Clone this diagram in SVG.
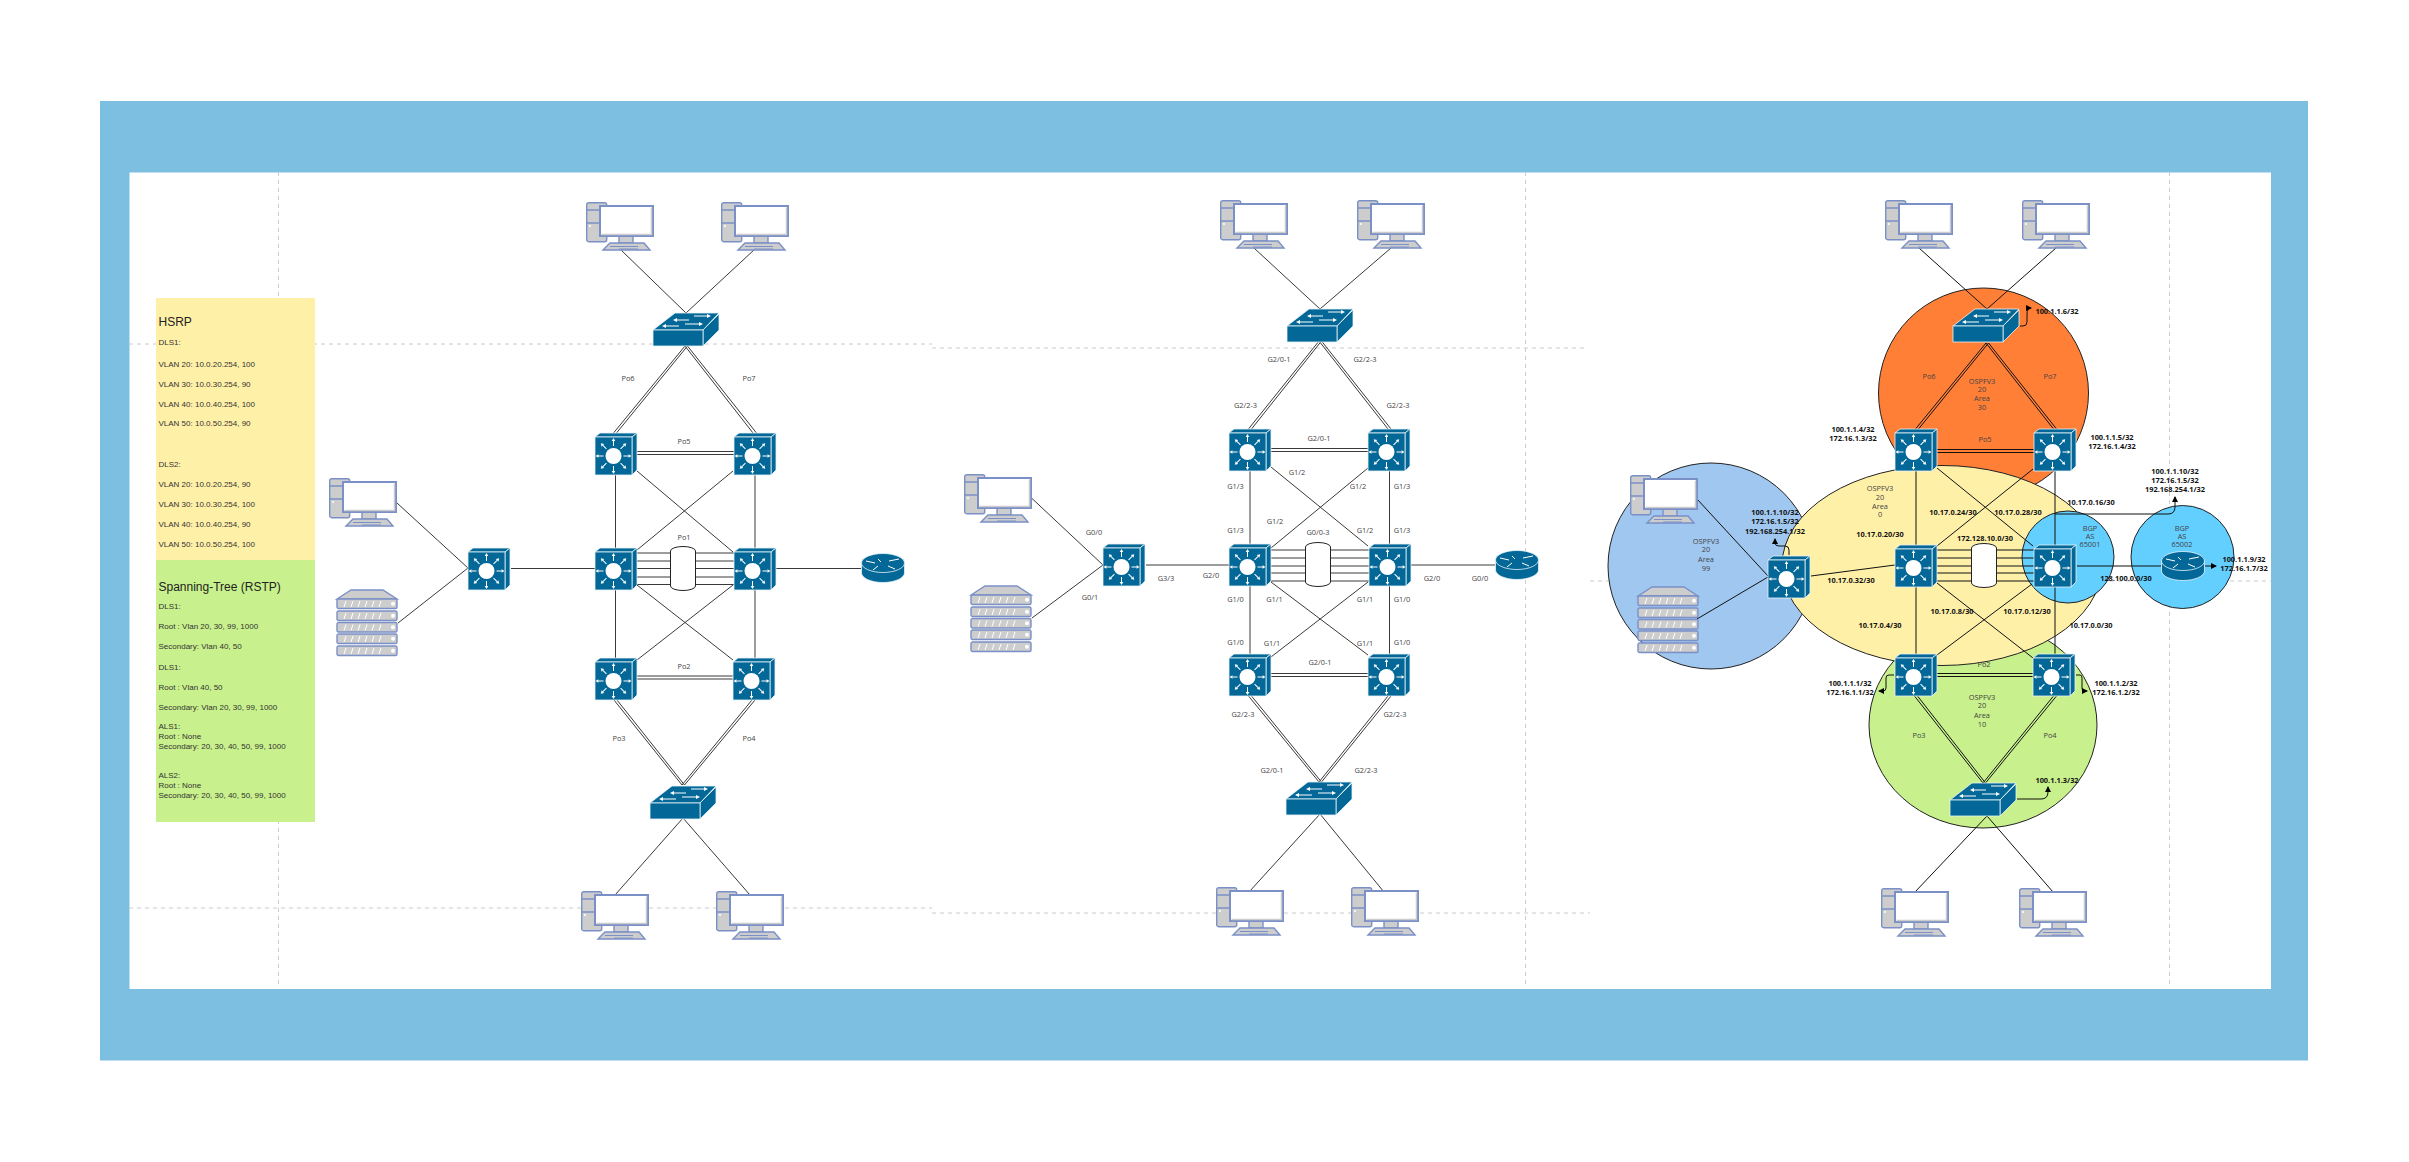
<svg xmlns="http://www.w3.org/2000/svg" width="2409" height="1162" viewBox="0 0 2409 1162">
<style>
text{font-family:"Open Sans","Noto Sans","Liberation Sans",sans-serif;font-size:7.4px;fill:#444;text-anchor:middle}
.b text,text.b{font-weight:700;fill:#111}
.n text{font-family:"Liberation Sans",Arial,sans-serif;font-size:8px;text-anchor:start;fill:#333}
.n text.h{font-size:12px;fill:#222}
.c path{fill:none;stroke:#3a3a3a;stroke-width:1}
.c path.k{stroke:#111}
.g{fill:none;stroke:#ccc;stroke-width:1;stroke-dasharray:4 4}
.z{stroke:#222;stroke-width:1}
.f{fill:#036897;stroke:#e6f3f8;stroke-width:.8}
.w{stroke:#fff;stroke-width:1;fill:none}
.p{fill:#cdcdcd;stroke:#7b90c6;stroke-width:1.4}
</style>
<defs>
<marker id="a" markerWidth="6" markerHeight="6" refX="5" refY="3" orient="auto" markerUnits="userSpaceOnUse"><path d="M0 0L6 3L0 6z" fill="#000"/></marker>
<g id="ar"><path d="M0-10V-15" class="w"/><path d="M-1.8-15H1.8L0-18z" fill="#fff"/></g>
<symbol id="l3" width="43" height="43" viewBox="0 0 43 43" overflow="visible">
<path class="f" d="M0 4L5 0H42L37 4z"/><path class="f" d="M37 4L42 0V37L37 42z"/><rect class="f" y="4" width="37" height="38"/>
<circle cx="18.5" cy="23" r="8" fill="#fff"/>
<g transform="translate(18.5 23)"><use href="#ar"/><use href="#ar" transform="rotate(45)"/><use href="#ar" transform="rotate(90)"/><use href="#ar" transform="rotate(135)"/><use href="#ar" transform="rotate(180)"/><use href="#ar" transform="rotate(225)"/><use href="#ar" transform="rotate(270)"/><use href="#ar" transform="rotate(315)"/></g>
</symbol>
<symbol id="sw" width="67" height="34" viewBox="0 0 67 34" overflow="visible">
<path class="f" d="M0 17L22 0H66L50 17z"/><path class="f" d="M50 17L66 1V17L50 33z"/><rect class="f" y="17" width="50" height="16"/>
<path class="w" d="M24 7H36M41 3H54M32 11H46M13 13H26"/><path fill="#fff" d="M24 5L20 7L24 9zM54 1L58 3L54 5zM46 9L50 11L46 13zM13 11L9 13L13 15z"/>
</symbol>
<symbol id="pc" width="68" height="49" viewBox="0 0 68 49" overflow="visible">
<rect class="p" x=".7" y=".7" width="20" height="39" rx="2"/><path class="p" d="M.7 8H20M.7 21H14"/><circle cx="4" cy="24" r="1" fill="#fff"/>
<rect class="p" x="33" y="33" width="14" height="8"/><path class="p" d="M17 48L24 41H58L64 48z"/><path fill="none" stroke="#7b90c6" d="M24 44.500H52M33 47H52"/>
<rect x="14" y="4" width="53" height="30" fill="#fff" stroke="#7b90c6" stroke-width="2"/>
<path d="M65.500 5.500V32.500H15.500" fill="none" stroke="#ccc" stroke-width="1.500"/>
</symbol>
<g id="ro"><rect class="p" width="60" height="9.5" rx="1.5"/><path class="w" stroke-width="2" d="M7 8L9 2M14 8L16 2M21 8L23 2M28 8L30 2M35 8L37 2M42 8L44 2"/><circle cx="56" cy="4.8" r="2" fill="#fff"/></g>
<symbol id="sv" width="62" height="68" viewBox="0 0 62 68" overflow="visible">
<path class="p" d="M1 10L15 1H47L61 10z"/><use href="#ro" x="1" y="10"/><use href="#ro" x="1" y="22"/><use href="#ro" x="1" y="33.500"/><use href="#ro" x="1" y="45"/><use href="#ro" x="1" y="57"/>
</symbol>
<symbol id="rt" width="44" height="30" viewBox="0 0 44 30" overflow="visible">
<path class="f" d="M.5 10V20C.5 25 10 29.500 22 29.500S43.500 25 43.500 20V10z"/><ellipse class="f" cx="22" cy="10" rx="21.500" ry="9.500"/>
<path class="w" stroke-width="1.500" d="M5 8L14 10M38 6L28 8M27 13L34 16M17 13L12 17M17 6L20 9"/>
</symbol>
<symbol id="cy" width="26" height="45" viewBox="0 0 26 45" overflow="visible">
<path d="M.5 5A12.500 4.500 0 0 1 25.500 5V40A12.500 4.500 0 0 1 .5 40z" fill="#fff" stroke="#222"/>
</symbol>
</defs>

<rect x="100" y="101" width="2208" height="959.500" fill="#7dbfe0"/>
<rect x="129.500" y="172.500" width="2141.500" height="816.500" fill="#fff"/>

<g id="guides">
<path class="g" d="M278.500 172V988M1525.500 172V988M2169.500 172V988"/>
<path class="g" d="M129 344H932M932 348H1588M129 908H932M932 913H1590M1590 581H2271"/>
</g>

<g id="notes" class="n">
<rect x="156" y="298" width="159" height="262" fill="#fff0a8"/>
<rect x="156" y="560" width="159" height="262" fill="#c8f08c"/>
<text class="h" x="158.500" y="326">HSRP</text>
<text x="158.500" y="345">DLS1:</text>
<text x="158.500" y="367">VLAN 20: 10.0.20.254, 100</text>
<text x="158.500" y="387">VLAN 30: 10.0.30.254, 90</text>
<text x="158.500" y="407">VLAN 40: 10.0.40.254, 100</text>
<text x="158.500" y="426">VLAN 50: 10.0.50.254, 90</text>
<text x="158.500" y="467">DLS2:</text>
<text x="158.500" y="487">VLAN 20: 10.0.20.254, 90</text>
<text x="158.500" y="507">VLAN 30: 10.0.30.254, 100</text>
<text x="158.500" y="527">VLAN 40: 10.0.40.254, 90</text>
<text x="158.500" y="547">VLAN 50: 10.0.50.254, 100</text>
<text class="h" x="158.500" y="591">Spanning-Tree (RSTP)</text>
<text x="158.500" y="609">DLS1:</text>
<text x="158.500" y="629">Root : Vlan 20, 30, 99, 1000</text>
<text x="158.500" y="649">Secondary: Vlan 40, 50</text>
<text x="158.500" y="670">DLS1:</text>
<text x="158.500" y="690">Root : Vlan 40, 50</text>
<text x="158.500" y="710">Secondary: Vlan 20, 30, 99, 1000</text>
<text x="158.500" y="729">ALS1:</text>
<text x="158.500" y="739">Root : None</text>
<text x="158.500" y="749">Secondary: 20, 30, 40, 50, 99, 1000</text>
<text x="158.500" y="778">ALS2:</text>
<text x="158.500" y="788">Root : None</text>
<text x="158.500" y="798">Secondary: 20, 30, 40, 50, 99, 1000</text>
</g>

<g id="areas" class="z">
<circle id="area-99" cx="1711" cy="566" r="103" fill="#a0c7ef"/>
<circle id="area-30" cx="1983.500" cy="393" r="105" fill="#ff7f36"/>
<ellipse id="area-10" cx="1983" cy="725" rx="114" ry="103" fill="#c8f08c"/>
<ellipse id="area-0" cx="1942" cy="565.500" rx="160" ry="100" fill="#fff0a8"/>
<circle id="as-65001" cx="2068" cy="557" r="46" fill="#62cfff"/>
<circle id="as-65002" cx="2182.500" cy="557" r="51.500" fill="#62cfff"/>
</g>

<g id="connectors" class="c">
<!-- left diagram -->
<path d="M397 503L468 568M398 623L468 568M511 568.500H595M776 568.500H861M620 249L686 313M755 249L686 313M615.500 474V548M755 474V548M615.500 590V658M755 590V658M637 471L733 552M733 471L637 550M637 585L733 660M733 585L637 660M683 818L615 895M683 818L750 895"/>
<path d="M685 346L613.500 433M687.500 346L616.500 433M685 346L753 433M687.500 346L756.500 433M637 451.500H734M637 454.500H734M637 676H733M637 679H733M614 700L682 785M617 700L684.500 785M752 700L682 785M755 700L684.500 785"/>
<path d="M637 553H670M696 553H734M637 561H670M696 561H734M637 568.500H670M696 568.500H734M637 577H670M696 577H734M637 584.500H670M696 584.500H734"/>
<!-- middle diagram -->
<path d="M1031.500 498L1103 565M1032 618L1103 565M1146 565H1229M1411 565H1495M1254 248L1320 309M1391 248L1320 309M1250 471V544M1389.500 471V544M1250 586V654M1389.500 586V654M1271 467L1368 546M1368 468L1271 548M1271 582L1368 655M1368 582L1271 657M1320 814L1249 892M1320 814L1384 892"/>
<path d="M1319 341L1248.500 429M1321.500 341L1251.500 429M1319 341L1388 429M1321.500 341L1391 429M1271 448.500H1368M1271 451.500H1368M1271 673.500H1368M1271 676.500H1368M1248.500 696L1319 782M1251.500 696L1321.500 782M1388 696L1319 782M1391 696L1321.500 782"/>
<path d="M1271 550H1305M1331 550H1369M1271 558H1305M1331 558H1369M1271 566H1305M1331 566H1369M1271 573H1305M1331 573H1369M1271 581H1305M1331 581H1369"/>
<!-- right diagram -->
<path class="k" d="M1919 248L1987 309M2056 248L1987 309M1987 816L1915 892M1987 816L2053 892M1697 499L1768 576M1697 619L1768 577M1811 576L1895 565M1916 471V545M2055 471V545M1916 587V654M2055 587V654M1937 468L2033 546M2033 469L1937 546M1937 583L2033 658M2032 584L1937 655M2077 566H2161"/>
<path class="k" d="M1986 343L1915.500 429M1988.500 343L1918.500 429M1986 343L2053.500 429M1988.500 343L2056.500 429M1937 449.500H2034M1937 452.500H2034M1937 673.500H2034M1937 676.500H2034M1914.500 696L1983 783M1917.500 696L1985.500 783M2053.500 696L1983 783M2056.500 696L1985.500 783"/>
<path class="k" d="M1937 550H1971M1997 550H2034M1937 558H1971M1997 558H2034M1937 566H1971M1997 566H2034M1937 573H1971M1997 573H2034M1937 581H1971M1997 581H2034"/>
<path class="k" marker-end="url(#a)" d="M2055 514H2168Q2175 514 2175 507V497"/>
<path class="k" marker-end="url(#a)" d="M2205 566H2216"/>
<path class="k" marker-end="url(#a)" d="M2020 326H2023Q2027 326 2027 322V314Q2027 308 2031 308"/>
<path class="k" marker-end="url(#a)" d="M1894 675H1889Q1886 675 1886 678V688Q1886 691 1883 691H1879"/>
<path class="k" marker-end="url(#a)" d="M2076 675H2080Q2082 675 2082 678V688Q2082 691 2084 691H2087"/>
<path class="k" marker-end="url(#a)" d="M2017 799H2041Q2048 799 2048 792V787"/>
<path class="k" marker-end="url(#a)" d="M1789 555V550Q1789 546 1785 546H1779Q1775 546 1775 543V539"/>
</g>

<g id="left-diagram">
<g id="l-pc-top-1"><use href="#pc" x="586" y="202"/></g>
<g id="l-pc-top-2"><use href="#pc" x="721" y="202"/></g>
<g id="l-sw-top"><use href="#sw" x="653" y="313"/></g>
<g id="l-dsw-tl"><use href="#l3" x="595" y="433"/></g>
<g id="l-dsw-tr"><use href="#l3" x="734" y="433"/></g>
<g id="l-pc-left"><use href="#pc" x="329" y="478"/></g>
<g id="l-server"><use href="#sv" x="336" y="589"/></g>
<g id="l-core"><use href="#l3" x="468" y="548"/></g>
<g id="l-dsw-ml"><use href="#l3" x="595" y="548"/></g>
<g id="l-cyl"><use href="#cy" x="670" y="546"/></g>
<g id="l-dsw-mr"><use href="#l3" x="734" y="548"/></g>
<g id="l-router"><use href="#rt" x="861" y="553"/></g>
<g id="l-dsw-bl"><use href="#l3" x="595" y="658"/></g>
<g id="l-dsw-br"><use href="#l3" x="733" y="658"/></g>
<g id="l-sw-bottom"><use href="#sw" x="650" y="786"/></g>
<g id="l-pc-bottom-1"><use href="#pc" x="581" y="891"/></g>
<g id="l-pc-bottom-2"><use href="#pc" x="716" y="891"/></g>
</g>

<g id="middle-diagram">
<g id="m-pc-top-1"><use href="#pc" x="1220" y="200"/></g>
<g id="m-pc-top-2"><use href="#pc" x="1357" y="200"/></g>
<g id="m-sw-top"><use href="#sw" x="1287" y="309"/></g>
<g id="m-dsw-tl"><use href="#l3" x="1229" y="429"/></g>
<g id="m-dsw-tr"><use href="#l3" x="1368" y="429"/></g>
<g id="m-pc-left"><use href="#pc" x="964" y="474"/></g>
<g id="m-server"><use href="#sv" x="970" y="585"/></g>
<g id="m-core"><use href="#l3" x="1103" y="544"/></g>
<g id="m-dsw-ml"><use href="#l3" x="1229" y="544"/></g>
<g id="m-cyl"><use href="#cy" x="1305" y="542"/></g>
<g id="m-dsw-mr"><use href="#l3" x="1369" y="544"/></g>
<g id="m-router"><use href="#rt" x="1495" y="550"/></g>
<g id="m-dsw-bl"><use href="#l3" x="1229" y="654"/></g>
<g id="m-dsw-br"><use href="#l3" x="1368" y="654"/></g>
<g id="m-sw-bottom"><use href="#sw" x="1286" y="782"/></g>
<g id="m-pc-bottom-1"><use href="#pc" x="1216" y="887"/></g>
<g id="m-pc-bottom-2"><use href="#pc" x="1351" y="887"/></g>
</g>

<g id="right-diagram">
<g id="r-pc-top-1"><use href="#pc" x="1885" y="200"/></g>
<g id="r-pc-top-2"><use href="#pc" x="2022" y="200"/></g>
<g id="r-sw-top"><use href="#sw" x="1953" y="309"/></g>
<g id="r-dsw-tl"><use href="#l3" x="1895" y="429"/></g>
<g id="r-dsw-tr"><use href="#l3" x="2034" y="429"/></g>
<g id="r-pc-left"><use href="#pc" x="1630" y="475"/></g>
<g id="r-server"><use href="#sv" x="1637" y="586"/></g>
<g id="r-core"><use href="#l3" x="1768" y="556"/></g>
<g id="r-dsw-ml"><use href="#l3" x="1895" y="545"/></g>
<g id="r-cyl"><use href="#cy" x="1971" y="543"/></g>
<g id="r-dsw-mr"><use href="#l3" x="2034" y="545"/></g>
<g id="r-router"><use href="#rt" x="2161" y="551"/></g>
<g id="r-dsw-bl"><use href="#l3" x="1895" y="654"/></g>
<g id="r-dsw-br"><use href="#l3" x="2033" y="654"/></g>
<g id="r-sw-bottom"><use href="#sw" x="1950" y="783"/></g>
<g id="r-pc-bottom-1"><use href="#pc" x="1881" y="888"/></g>
<g id="r-pc-bottom-2"><use href="#pc" x="2019" y="888"/></g>
</g>

<g id="labels-left">
<text x="628" y="381">Po6</text><text x="749" y="381">Po7</text><text x="684" y="444">Po5</text><text x="684" y="540">Po1</text><text x="684" y="669">Po2</text><text x="619" y="741">Po3</text><text x="749" y="741">Po4</text>
</g>
<g id="labels-middle">
<text x="1279" y="362">G2/0-1</text><text x="1365" y="362">G2/2-3</text><text x="1245.500" y="408">G2/2-3</text><text x="1398" y="408">G2/2-3</text><text x="1319" y="441">G2/0-1</text><text x="1297" y="475">G1/2</text><text x="1235.500" y="489">G1/3</text><text x="1358" y="489">G1/2</text><text x="1402" y="489">G1/3</text><text x="1275" y="524">G1/2</text><text x="1235.500" y="533">G1/3</text><text x="1318" y="535">G0/0-3</text><text x="1365" y="533">G1/2</text><text x="1402" y="533">G1/3</text><text x="1094" y="535">G0/0</text><text x="1166" y="581">G3/3</text><text x="1211" y="578">G2/0</text><text x="1432" y="581">G2/0</text><text x="1480" y="581">G0/0</text><text x="1090" y="600">G0/1</text><text x="1235.500" y="602">G1/0</text><text x="1274.500" y="602">G1/1</text><text x="1365" y="602">G1/1</text><text x="1402" y="602">G1/0</text><text x="1235.500" y="645">G1/0</text><text x="1272" y="646">G1/1</text><text x="1320" y="665">G2/0-1</text><text x="1365" y="646">G1/1</text><text x="1402" y="645">G1/0</text><text x="1243" y="717">G2/2-3</text><text x="1395" y="717">G2/2-3</text><text x="1272" y="773">G2/0-1</text><text x="1366" y="773">G2/2-3</text>
</g>
<g id="labels-right">
<text x="1929" y="379">Po6</text><text x="2050" y="379">Po7</text><text x="1985" y="442">Po5</text><text x="1984" y="667">Po2</text><text x="1919" y="738">Po3</text><text x="2050" y="738">Po4</text>
<text x="1982" y="384">OSPFV3</text><text x="1982" y="392">20</text><text x="1982" y="401">Area</text><text x="1982" y="410">30</text>
<text x="1880" y="491">OSPFV3</text><text x="1880" y="500">20</text><text x="1880" y="509">Area</text><text x="1880" y="517">0</text>
<text x="1706" y="544">OSPFV3</text><text x="1706" y="552">20</text><text x="1706" y="562">Area</text><text x="1706" y="571">99</text>
<text x="1982" y="700">OSPFV3</text><text x="1982" y="708">20</text><text x="1982" y="718">Area</text><text x="1982" y="727">10</text>
<text x="2090" y="531">BGP</text><text x="2090" y="539">AS</text><text x="2090" y="547">65001</text>
<text x="2182" y="531">BGP</text><text x="2182" y="539">AS</text><text x="2182" y="547">65002</text>
<g class="b">
<text x="1853" y="432">100.1.1.4/32</text><text x="1853" y="441">172.16.1.3/32</text>
<text x="2112" y="440">100.1.1.5/32</text><text x="2112" y="449">172.16.1.4/32</text>
<text x="2057" y="314">100.1.1.6/32</text>
<text x="1953" y="515">10.17.0.24/30</text><text x="2018" y="515">10.17.0.28/30</text><text x="1880" y="537">10.17.0.20/30</text><text x="1985" y="541">172.128.10.0/30</text><text x="2091" y="505">10.17.0.16/30</text>
<text x="1775" y="515">100.1.1.10/32</text><text x="1775" y="524">172.16.1.5/32</text><text x="1775" y="534">192.168.254.1/32</text>
<text x="1851" y="583">10.17.0.32/30</text><text x="1952" y="614">10.17.0.8/30</text><text x="2027" y="614">10.17.0.12/30</text><text x="1880" y="628">10.17.0.4/30</text><text x="2091" y="628">10.17.0.0/30</text><text x="2126" y="581">128.100.0.0/30</text>
<text x="2175" y="474">100.1.1.10/32</text><text x="2175" y="483">172.16.1.5/32</text><text x="2175" y="492">192.168.254.1/32</text>
<text x="2244" y="562">100.1.1.9/32</text><text x="2244" y="571">172.16.1.7/32</text>
<text x="1850" y="686">100.1.1.1/32</text><text x="1850" y="695">172.16.1.1/32</text>
<text x="2116" y="686">100.1.1.2/32</text><text x="2116" y="695">172.16.1.2/32</text>
<text x="2057" y="783">100.1.1.3/32</text>
</g>
</g>
</svg>
